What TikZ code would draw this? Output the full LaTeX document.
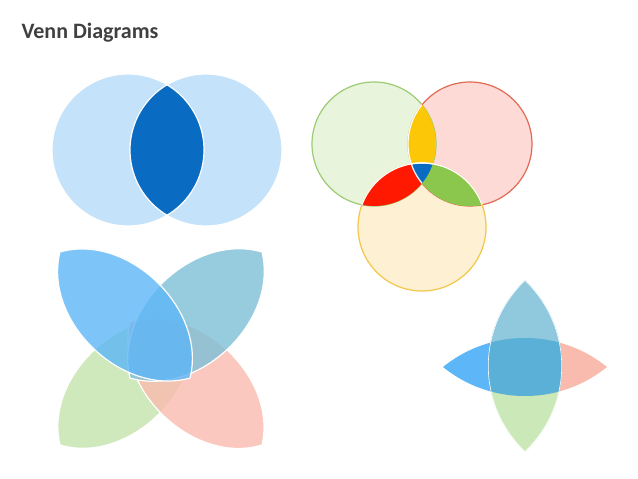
\documentclass[tikz,border=0pt]{standalone}
\usepackage{fontspec}
\setmainfont{Carlito}
\begin{document}
\begin{tikzpicture}[x=1pt,y=-1pt,
  wline/.style={draw=white,line width=1.2pt},
  petal/.style={wline,fill opacity=0.8}]
\useasboundingbox[fill=white] (0,0) rectangle (638,479);
\node[anchor=west,font=\bfseries\fontsize{22}{24}\selectfont,text=black!75] (title) at (18,33) {Venn Diagrams};
% two circles
\definecolor{lb}{HTML}{C4E2FA}
\definecolor{db}{HTML}{0A6BC2}
\fill[lb] (128,150) circle[radius=76pt] (206,150) circle[radius=76pt];
\begin{scope}
\clip (128,150) circle[radius=76pt];
\fill[db] (206,150) circle[radius=76pt];
\end{scope}
\draw[wline] (128,150) circle[radius=76pt] (206,150) circle[radius=76pt];
% three circles
\definecolor{cg}{HTML}{E8F4DC}\definecolor{cgl}{HTML}{9CCB74}
\definecolor{cr}{HTML}{FDDAD5}\definecolor{crl}{HTML}{E06A55}
\definecolor{cy}{HTML}{FEF0D2}\definecolor{cyl}{HTML}{F2C74A}
\fill[cg] (374,144) circle[radius=62pt];
\fill[cr] (470,144) circle[radius=62pt];
\fill[cy] (422,227) circle[radius=64pt];
\draw[cgl,line width=1.2pt] (374,144) circle[radius=62pt];
\draw[crl,line width=1.2pt] (470,144) circle[radius=62pt];
\draw[cyl,line width=1.2pt] (422,227) circle[radius=64pt];
\begin{scope}\clip (374,144) circle[radius=62pt];
\fill[orange!30!yellow!90!red,fill=yellow!60!orange] (470,144) circle[radius=62pt];
\fill[red!80!orange] (422,227) circle[radius=64pt];
\end{scope}
\begin{scope}\clip (470,144) circle[radius=62pt];
\fill[green!50!black!40!lime!80] (422,227) circle[radius=64pt];
\fill[fill={rgb,255:red,138;green,199;blue,76}] (422,227) circle[radius=64pt];
\end{scope}
\begin{scope}\clip (374,144) circle[radius=62pt];\clip (470,144) circle[radius=62pt];
\fill[db] (422,227) circle[radius=64pt];
\end{scope}
\begin{scope}\clip (374,144) circle[radius=62pt];
\draw[wline] (470,144) circle[radius=62pt] (422,227) circle[radius=64pt];
\end{scope}
\begin{scope}\clip (470,144) circle[radius=62pt];
\draw[wline] (422,227) circle[radius=64pt];
\end{scope}
% four petals
\definecolor{pb}{HTML}{5DB6F7}\definecolor{pt}{HTML}{7DC0D8}
\definecolor{pg}{HTML}{C3E4AC}\definecolor{pp}{HTML}{F9BBAE}
\coordinate (g1) at (60,445); \coordinate (g2) at (190,322);
\coordinate (r1) at (262,445); \coordinate (r2) at (130,322);
\coordinate (t1) at (262,252); \coordinate (t2) at (130,378);
\coordinate (b1) at (60,252); \coordinate (b2) at (190,378);
\path[petal,fill=pg] (g1) to[bend left=60] (g2) to[bend left=60] (g1);
\path[petal,fill=pp] (r1) to[bend left=60] (r2) to[bend left=60] (r1);
\path[petal,fill=pt] (t1) to[bend left=60] (t2) to[bend left=60] (t1);
\path[petal,fill=pb] (b1) to[bend left=60] (b2) to[bend left=60] (b1);
% cross
\begin{scope}
\clip (525,265.6) circle[radius=130.4pt];
\clip (525,468.4) circle[radius=130.4pt];
\fill[pb] (443,270) rectangle (525,460);
\fill[pp] (525,270) rectangle (610,460);
\end{scope}
\begin{scope}
\clip (443.6,366) circle[radius=118.4pt];
\clip (606.4,366) circle[radius=118.4pt];
\fill[pt,fill opacity=0.85] (480,270) rectangle (570,366);
\fill[pg,fill opacity=0.85] (480,366) rectangle (570,460);
\begin{scope}
\clip (525,265.6) circle[radius=130.4pt];
\clip (525,468.4) circle[radius=130.4pt];
\fill[fill={rgb,255:red,90;green,176;blue,214}] (480,270) rectangle (570,460);
\end{scope}
\draw[wline] (443.6,366) circle[radius=118.4pt] (606.4,366) circle[radius=118.4pt];
\end{scope}
\end{tikzpicture}
\end{document}
